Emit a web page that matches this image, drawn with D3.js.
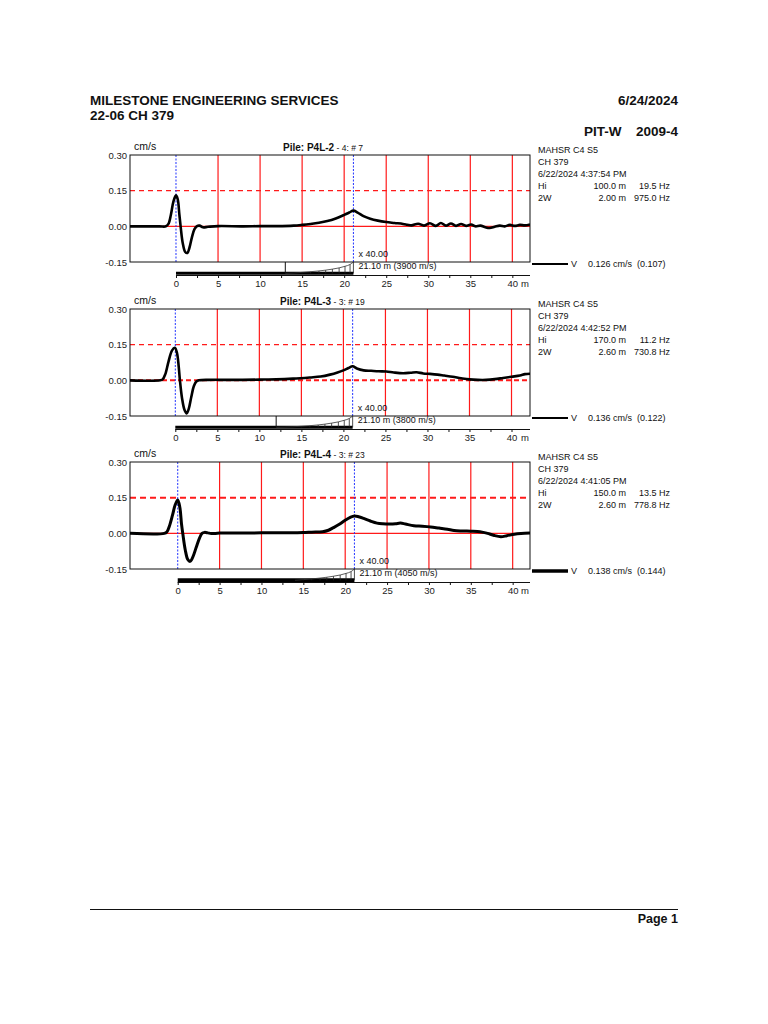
<!DOCTYPE html>
<html>
<head>
<meta charset="utf-8">
<script src="https://cdn.jsdelivr.net/npm/d3@7"></script>
<style>
  html, body { margin: 0; padding: 0; background: #fff; }
  svg { display: block; font-family: "Liberation Sans", Arial, sans-serif; }
</style>
</head>
<body>
<script>
// ---------------- DATA ----------------
const headerLeft1 = "MILESTONE ENGINEERING SERVICES";
const headerLeft2 = "22-06 CH 379";
const headerDate = "6/24/2024";
const headerInst = "PIT-W";
const headerVer = "2009-4";
const footerText = "Page 1";

const pileNames = ["P4L-2", "P4L-3", "P4L-4"];
const pileSubs = [" - 4: # 7", " - 3: # 19", " - 3: # 23"];
const infoProject = ["MAHSR C4 S5", "MAHSR C4 S5", "MAHSR C4 S5"];
const infoCH = ["CH 379", "CH 379", "CH 379"];
const infoDate = ["6/22/2024 4:37:54 PM", "6/22/2024 4:42:52 PM", "6/22/2024 4:41:05 PM"];
const hiLen = ["100.0 m", "170.0 m", "150.0 m"];
const hiFreq = ["19.5 Hz", "11.2 Hz", "13.5 Hz"];
const wLen = ["2.00 m", "2.60 m", "2.60 m"];
const wFreq = ["975.0 Hz", "730.8 Hz", "778.8 Hz"];
const vPeak = ["0.126 cm/s", "0.136 cm/s", "0.138 cm/s"];
const vRef = ["(0.107)", "(0.122)", "(0.144)"];
const ampLabel = ["x 40.00", "x 40.00", "x 40.00"];
const toeLabel = ["21.10 m (3900 m/s)", "21.10 m (3800 m/s)", "21.10 m (4050 m/s)"];
const toeDepth = [21.1, 21.1, 21.1];
const xMinPanel = [-5.47, -5.39, -5.7];
const xMaxPanel = [42.1, 42.2, 42.07];

const yTicks = [-0.15, 0.00, 0.15, 0.30];
const yTickLabels = ["-0.15", "0.00", "0.15", "0.30"];
const xLabelTicks = [0, 5, 10, 15, 20, 25, 30, 35, 40];
const xMinorTicks = [0, 2.5, 5, 7.5, 10, 12.5, 15, 17.5, 20, 22.5, 25, 27.5, 30, 32.5, 35, 37.5, 40];
const gridX = [5, 10, 15, 20, 25, 30, 35, 40];

// Velocity traces (distance m, velocity cm/s)
const trace1Dist = [-5.47, -2, -1.2, -0.9, -0.6, -0.3, 0, 0.2, 0.4, 0.55, 0.8, 1.1, 1.35, 1.6, 1.9, 2.2, 2.5, 2.8, 3.2, 3.8, 5, 8, 10, 12, 14, 15, 16, 17, 18, 19, 20, 20.6, 21.1, 21.6, 22.3, 23.1, 24, 25, 26, 27, 27.5, 28.0, 28.8, 29.5, 30.2, 30.9, 31.5, 32.1, 32.7, 33.3, 33.9, 34.5, 35.1, 35.6, 36.2, 36.8, 37.3, 37.9, 38.5, 39.1, 39.7, 40.3, 40.9, 41.5, 42.1];
const trace1Vel  = [0, 0, 0, 0.01, 0.05, 0.105, 0.13, 0.115, 0.05, 0, -0.07, -0.108, -0.112, -0.09, -0.045, -0.012, 0.001, 0.003, -0.004, -0.002, 0.001, 0.0, 0.001, 0.001, 0.003, 0.006, 0.01, 0.015, 0.022, 0.033, 0.048, 0.058, 0.066, 0.058, 0.043, 0.032, 0.024, 0.018, 0.014, 0.01, 0.007, 0.004, 0.011, 0.003, 0.013, 0.002, 0.014, 0.003, 0.012, 0.002, 0.01, 0.002, 0.008, 0.0, 0.003, -0.004, -0.007, -0.002, 0.003, 0.0, 0.006, 0.002, 0.006, 0.004, 0.008];

const trace2Dist = [-5.39, -1.8, -1.5, -1.2, -0.8, -0.4, -0.05, 0.2, 0.4, 0.55, 0.8, 1.1, 1.35, 1.6, 1.9, 2.2, 2.5, 2.8, 4, 6, 8, 10, 12, 14, 16, 17.3, 18.4, 19.3, 20, 20.6, 21.1, 21.6, 22.4, 23.3, 24.2, 25.1, 26, 27.1, 28, 28.7, 29.5, 30.3, 31.2, 32, 33, 34, 35, 36, 37, 38, 39, 40, 41, 41.6, 42.2];
const trace2Vel  = [0, 0, 0.004, 0.025, 0.08, 0.125, 0.137, 0.115, 0.06, 0, -0.075, -0.125, -0.139, -0.12, -0.07, -0.025, -0.005, 0.0, 0.002, 0.002, 0.002, 0.003, 0.004, 0.007, 0.012, 0.016, 0.024, 0.033, 0.042, 0.052, 0.059, 0.05, 0.042, 0.04, 0.038, 0.037, 0.033, 0.03, 0.032, 0.034, 0.029, 0.027, 0.024, 0.02, 0.015, 0.009, 0.004, 0.002, 0.002, 0.005, 0.01, 0.015, 0.02, 0.026, 0.028];

const trace3Dist = [-5.7, -1.6, -1.3, -1.0, -0.6, -0.3, 0, 0.25, 0.45, 0.6, 0.9, 1.2, 1.47, 1.8, 2.2, 2.6, 2.9, 3.2, 3.6, 4, 5, 8, 10, 13, 15, 16, 17.3, 18, 18.6, 19.3, 20, 20.6, 21.1, 21.6, 22.2, 23, 23.8, 24.5, 25.3, 26, 26.6, 27.2, 28.2, 29.2, 30.2, 31.2, 32.2, 33, 33.8, 35, 35.8, 36.5, 37, 37.8, 38.6, 39.3, 40.2, 41, 42.07];
const trace3Vel  = [0, 0, 0.006, 0.03, 0.08, 0.12, 0.14, 0.11, 0.04, 0, -0.07, -0.11, -0.118, -0.1, -0.06, -0.02, 0.0, 0.004, 0.002, -0.001, 0.001, 0.001, 0.002, 0.002, 0.003, 0.005, 0.007, 0.013, 0.024, 0.038, 0.055, 0.067, 0.073, 0.07, 0.063, 0.052, 0.043, 0.04, 0.039, 0.04, 0.043, 0.039, 0.032, 0.03, 0.027, 0.022, 0.017, 0.012, 0.01, 0.009, 0.008, 0.004, 0.0, -0.009, -0.014, -0.01, -0.004, -0.001, 0.001];

// Amplification curve (distance m, fraction of full height)
const amp1Dist = [13, 14, 15, 16, 17, 17.8, 18.6, 19.4, 20.1, 20.7, 21.1];
const amp1Frac = [0, 0.03, 0.08, 0.14, 0.21, 0.28, 0.37, 0.48, 0.62, 0.78, 1.0];
const amp2Dist = [12, 13, 14, 15, 16, 17, 17.8, 18.6, 19.4, 20.1, 20.7, 21.1];
const amp2Frac = [0, 0.02, 0.05, 0.09, 0.14, 0.21, 0.28, 0.37, 0.48, 0.62, 0.78, 1.0];
const amp3Dist = [14, 15, 16, 17, 17.8, 18.6, 19.4, 20.1, 20.7, 21.1];
const amp3Frac = [0, 0.06, 0.12, 0.2, 0.27, 0.36, 0.47, 0.61, 0.77, 1.0];

const traceDist = [trace1Dist, trace2Dist, trace3Dist];
const traceVel = [trace1Vel, trace2Vel, trace3Vel];
const ampDist = [amp1Dist, amp2Dist, amp3Dist];
const ampFrac = [amp1Frac, amp2Frac, amp3Frac];

// ---------------- LAYOUT / STYLE ----------------
const W = 768, H = 1024;
const panelTops = [155, 309, 462];
const boxLeft = 130, boxRight = 530, boxH = 107;
const styles = [
  { traceW: 2.6, hiW: 1.2, hiDash: "5,4", zeroW: 1.4, zeroDash: null, legendW: 2, barW: 3, ampStartLine: true },
  { traceW: 2.6, hiW: 1.2, hiDash: "5,4", zeroW: 2, zeroDash: "5,3", legendW: 2, barW: 3, ampStartLine: true },
  { traceW: 3.0, hiW: 2, hiDash: "6,4", zeroW: 1.2, zeroDash: null, legendW: 3.5, barW: 4, ampStartLine: false }
];

const svg = d3.select("body").append("svg").attr("width", W).attr("height", H);
svg.append("rect").attr("width", W).attr("height", H).attr("fill", "#fff");

// Header
svg.append("text").attr("x", 90).attr("y", 105).attr("font-size", 13.5).attr("font-weight", "bold").attr("fill", "#111").text(headerLeft1);
svg.append("text").attr("x", 90).attr("y", 120).attr("font-size", 13.5).attr("font-weight", "bold").attr("fill", "#111").text(headerLeft2);
svg.append("text").attr("x", 678).attr("y", 105).attr("font-size", 13.5).attr("font-weight", "bold").attr("text-anchor", "end").attr("fill", "#111").text(headerDate);
svg.append("text").attr("x", 584).attr("y", 136).attr("font-size", 13.5).attr("font-weight", "bold").attr("fill", "#111").text(headerInst);
svg.append("text").attr("x", 678).attr("y", 136).attr("font-size", 13.5).attr("font-weight", "bold").attr("text-anchor", "end").attr("fill", "#111").text(headerVer);

// Footer
svg.append("line").attr("x1", 90).attr("x2", 678).attr("y1", 909.5).attr("y2", 909.5).attr("stroke", "#111").attr("stroke-width", 1);
svg.append("text").attr("x", 678).attr("y", 923).attr("font-size", 12.5).attr("font-weight", "bold").attr("text-anchor", "end").attr("fill", "#111").text(footerText);

panelTops.forEach((top, i) => {
  const st = styles[i];
  const g = svg.append("g");
  const x = d3.scaleLinear().domain([xMinPanel[i], xMaxPanel[i]]).range([boxLeft, boxRight]);
  const y = d3.scaleLinear().domain([-0.15, 0.30]).range([top + boxH, top]);
  const boxBottom = top + boxH;
  const axisY = top + 120;
  const barY = top + 118.3;

  const clipId = "clip" + i;
  g.append("clipPath").attr("id", clipId).append("rect")
    .attr("x", boxLeft).attr("y", top).attr("width", boxRight - boxLeft).attr("height", boxH);

  // red vertical grid
  g.selectAll(".gx").data(gridX).enter().append("line")
    .attr("x1", d => x(d)).attr("x2", d => x(d))
    .attr("y1", top).attr("y2", boxBottom)
    .attr("stroke", "#ff1a1a").attr("stroke-width", 1.2);

  // red horizontals
  g.append("line").attr("x1", boxLeft).attr("x2", boxRight)
    .attr("y1", y(0.15)).attr("y2", y(0.15))
    .attr("stroke", "#ff1a1a").attr("stroke-width", st.hiW).attr("stroke-dasharray", st.hiDash);
  const zl = g.append("line").attr("x1", boxLeft).attr("x2", boxRight)
    .attr("y1", y(0)).attr("y2", y(0))
    .attr("stroke", "#ff1a1a").attr("stroke-width", st.zeroW);
  if (st.zeroDash) zl.attr("stroke-dasharray", st.zeroDash);

  // blue markers at 0 and toe
  [0, toeDepth[i]].forEach(d => {
    g.append("line").attr("x1", x(d)).attr("x2", x(d))
      .attr("y1", top).attr("y2", boxBottom)
      .attr("stroke", "#2233ff").attr("stroke-width", 1).attr("stroke-dasharray", "2,1.5");
  });

  // box
  g.append("rect").attr("x", boxLeft).attr("y", top).attr("width", boxRight - boxLeft).attr("height", boxH)
    .attr("fill", "none").attr("stroke", "#111").attr("stroke-width", 1);

  // y axis
  const ya = g.append("g").attr("transform", `translate(${boxLeft},0)`)
    .call(d3.axisLeft(y).tickValues(yTicks).tickSize(0).tickPadding(3)
      .tickFormat((d, k) => yTickLabels[k]));
  ya.select(".domain").remove();
  ya.selectAll("text").attr("font-size", 9.5).attr("fill", "#222").attr("font-family", "Liberation Sans, Arial, sans-serif");

  // units and title
  g.append("text").attr("x", 134).attr("y", top - 5).attr("font-size", 10.5).attr("fill", "#111").text("cm/s");
  const t = g.append("text").attr("x", i === 0 ? 283 : 280).attr("y", top - 4).attr("fill", "#111");
  t.append("tspan").attr("font-size", 10).attr("font-weight", "bold").text("Pile: " + pileNames[i]);
  t.append("tspan").attr("font-size", 8.5).text(pileSubs[i]);

  // trace
  const pts = traceDist[i].map((d, k) => [d, traceVel[i][k]]);
  g.append("path").datum(pts)
    .attr("clip-path", `url(#${clipId})`)
    .attr("d", d3.line().x(d => x(d[0])).y(d => y(d[1])).curve(d3.curveCatmullRom.alpha(0.5)))
    .attr("fill", "none").attr("stroke", "#000").attr("stroke-width", st.traceW)
    .attr("stroke-linejoin", "round");

  // bottom axis
  const xa = g.append("g").attr("transform", `translate(0,${axisY})`)
    .call(d3.axisBottom(x).tickValues(xMinorTicks).tickSize(3).tickPadding(2)
      .tickFormat(d => xLabelTicks.includes(d) ? d3.format("d")(d) : ""));
  xa.select(".domain").attr("d", `M${x(0)},0.5H${boxRight}`).attr("stroke", "#111");
  xa.selectAll("line").attr("stroke", "#111");
  xa.selectAll("text").attr("font-size", 9.5).attr("fill", "#222").attr("font-family", "Liberation Sans, Arial, sans-serif");
  g.append("text").attr("x", 521).attr("y", axisY + 12).attr("font-size", 9.5).attr("fill", "#222").text("m");

  // thick length bar
  g.append("line").attr("x1", x(0)).attr("x2", x(toeDepth[i]))
    .attr("y1", barY).attr("y2", barY).attr("stroke", "#000").attr("stroke-width", st.barW);

  // amplification curve
  const ay = f => barY - f * (barY - boxBottom);
  const apts = ampDist[i].map((d, k) => [d, ampFrac[i][k]]);
  g.append("path").datum(apts)
    .attr("d", d3.line().x(d => x(d[0])).y(d => ay(d[1])).curve(d3.curveMonotoneX))
    .attr("fill", "none").attr("stroke", "#333").attr("stroke-width", 0.8);
  g.selectAll(".at").data(apts.slice(1)).enter().append("line")
    .attr("x1", d => x(d[0])).attr("x2", d => x(d[0]))
    .attr("y1", d => ay(d[1])).attr("y2", barY)
    .attr("stroke", "#222").attr("stroke-width", 0.8);
  if (st.ampStartLine) {
    g.append("line").attr("x1", x(ampDist[i][0])).attr("x2", x(ampDist[i][0]))
      .attr("y1", boxBottom).attr("y2", barY).attr("stroke", "#111").attr("stroke-width", 1);
  }
  g.append("text").attr("x", x(toeDepth[i]) + 5).attr("y", top + 102).attr("font-size", 9).attr("fill", "#111").text(ampLabel[i]);
  g.append("text").attr("x", x(toeDepth[i]) + 5).attr("y", top + 114).attr("font-size", 9).attr("fill", "#111").text(toeLabel[i]);

  // info block
  const info = g.append("g").attr("font-size", 9).attr("fill", "#111");
  info.append("text").attr("x", 538).attr("y", top - 2).text(infoProject[i]);
  info.append("text").attr("x", 538).attr("y", top + 10).text(infoCH[i]);
  info.append("text").attr("x", 538).attr("y", top + 22).text(infoDate[i]);
  info.append("text").attr("x", 538).attr("y", top + 34).text("Hi");
  info.append("text").attr("x", 626).attr("y", top + 34).attr("text-anchor", "end").text(hiLen[i]);
  info.append("text").attr("x", 670).attr("y", top + 34).attr("text-anchor", "end").text(hiFreq[i]);
  info.append("text").attr("x", 538).attr("y", top + 46).text("2W");
  info.append("text").attr("x", 626).attr("y", top + 46).attr("text-anchor", "end").text(wLen[i]);
  info.append("text").attr("x", 670).attr("y", top + 46).attr("text-anchor", "end").text(wFreq[i]);

  // legend
  g.append("line").attr("x1", 532).attr("x2", 568).attr("y1", top + 109).attr("y2", top + 109)
    .attr("stroke", "#000").attr("stroke-width", st.legendW);
  info.append("text").attr("x", 571).attr("y", top + 112).text("V");
  info.append("text").attr("x", 588).attr("y", top + 112).text(vPeak[i]);
  info.append("text").attr("x", 637).attr("y", top + 112).text(vRef[i]);
});
</script>
</body>
</html>
